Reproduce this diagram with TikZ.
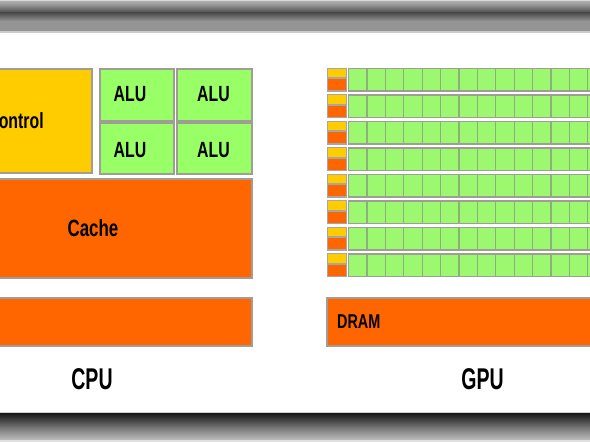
\documentclass[tikz,border=0pt]{standalone}
\usepackage{fontspec}
\newfontfamily\lblfont[FakeStretch=0.72]{Liberation Sans Bold}
\newfontfamily\titlefont[FakeStretch=0.65]{Liberation Sans Bold}
\definecolor{alugreen}{HTML}{99FF66}
\definecolor{gpugreen}{HTML}{9CF86E}
\definecolor{ctrlyellow}{HTML}{FFCC00}
\definecolor{cacheorange}{HTML}{FF6600}
\definecolor{edgegray}{HTML}{A09C96}
\definecolor{cellline}{HTML}{8CB07C}
\begin{document}
\begin{tikzpicture}[x=1pt,y=-1pt,
  box/.style={draw=edgegray, line width=1.5pt, inner sep=0pt, anchor=north west},
  alubox/.style={box, fill=alugreen},
  lbl/.style={inner sep=0pt, text=black},
  small/.style={lbl, font={\lblfont\fontsize{22}{26}\selectfont}},
  big/.style={lbl, font={\titlefont\fontsize{30}{34}\selectfont}}]
\useasboundingbox (0,0) rectangle (590,442);
\clip (0,0) rectangle (590,442);
\fill[white] (0,0) rectangle (590,442);
% top bar
\fill[black!15] (0,0) rectangle (590,2);
\shade[top color=black!33, bottom color=black!42] (0,1.5) rectangle (590,5.2);
\shade[top color=black!42, bottom color=black!71] (0,5) rectangle (590,12.7);
\shade[top color=black!71, bottom color=black!42] (0,12.5) rectangle (590,21.2);
\fill[black!42] (0,21) rectangle (590,31.2);
\fill[black!20] (0,31) rectangle (590,33);
% bottom bar
\fill[black!18] (0,412) rectangle (590,413.7);
\shade[top color=black!90, bottom color=black!55] (0,413.5) rectangle (590,427.2);
\shade[top color=black!55, bottom color=black!25] (0,427) rectangle (590,440.2);
\fill[black!12] (0,440) rectangle (590,442);
% CPU
\node[box, fill=ctrlyellow, minimum width=154pt, minimum height=104pt] (control) at (-63,68) {};
\node[alubox, minimum width=74pt, minimum height=52pt] (alu1) at (99,68) {};
\node[alubox, minimum width=75pt, minimum height=52pt] (alu2) at (176,68) {};
\node[alubox, minimum width=74pt, minimum height=51pt] (alu3) at (99,122) {};
\node[alubox, minimum width=75pt, minimum height=51pt] (alu4) at (176,122) {};
\node[box, fill=cacheorange, minimum width=314pt, minimum height=99pt] (cache) at (-63,178) {};
\node[box, fill=cacheorange, minimum width=314pt, minimum height=48pt] (cpudram) at (-63,297) {};
\node[small] (t-alu1) at (130,94) {ALU};
\node[small] (t-alu2) at (213.5,94) {ALU};
\node[small] (t-alu3) at (130,150) {ALU};
\node[small] (t-alu4) at (213.5,150) {ALU};
\node[small] (t-control) at (15.5,121) {Control};
\node[small, font={\lblfont\fontsize{23.5}{28}\selectfont}] (t-cache) at (93,228.5) {Cache};
\node[big] (t-cpu) at (92,379) {CPU};
% GPU
\foreach \i in {0,...,7}{
  \pgfmathsetmacro{\yy}{68.5+26.5*\i}
  \fill[black!35] (327,\yy-1) rectangle (347,\yy+23);
  \fill[ctrlyellow] (328.3,\yy) rectangle (345.7,\yy+8.8);
  \fill[cacheorange] (328.3,\yy+10.8) rectangle (345.7,\yy+21.8);
  \fill[gpugreen] (348.5,\yy) rectangle (600,\yy+22.5);
  \foreach \k in {1,...,13}{
    \draw[cellline, line width=1.2pt] ({348.5+18.4*\k},\yy) -- ({348.5+18.4*\k},\yy+22.5);
  }
  \draw[edgegray, line width=1.5pt] (348.5,\yy) rectangle (600,\yy+22.5);
}
\node[box, fill=cacheorange, minimum width=300pt, minimum height=48pt] (gpudram) at (326,297) {};
\node[small, font={\lblfont\fontsize{20}{24}\selectfont}, anchor=west] (t-dram) at (337,322) {DRAM};
\node[big] (t-gpu) at (482.5,379) {GPU};
\end{tikzpicture}
\end{document}
